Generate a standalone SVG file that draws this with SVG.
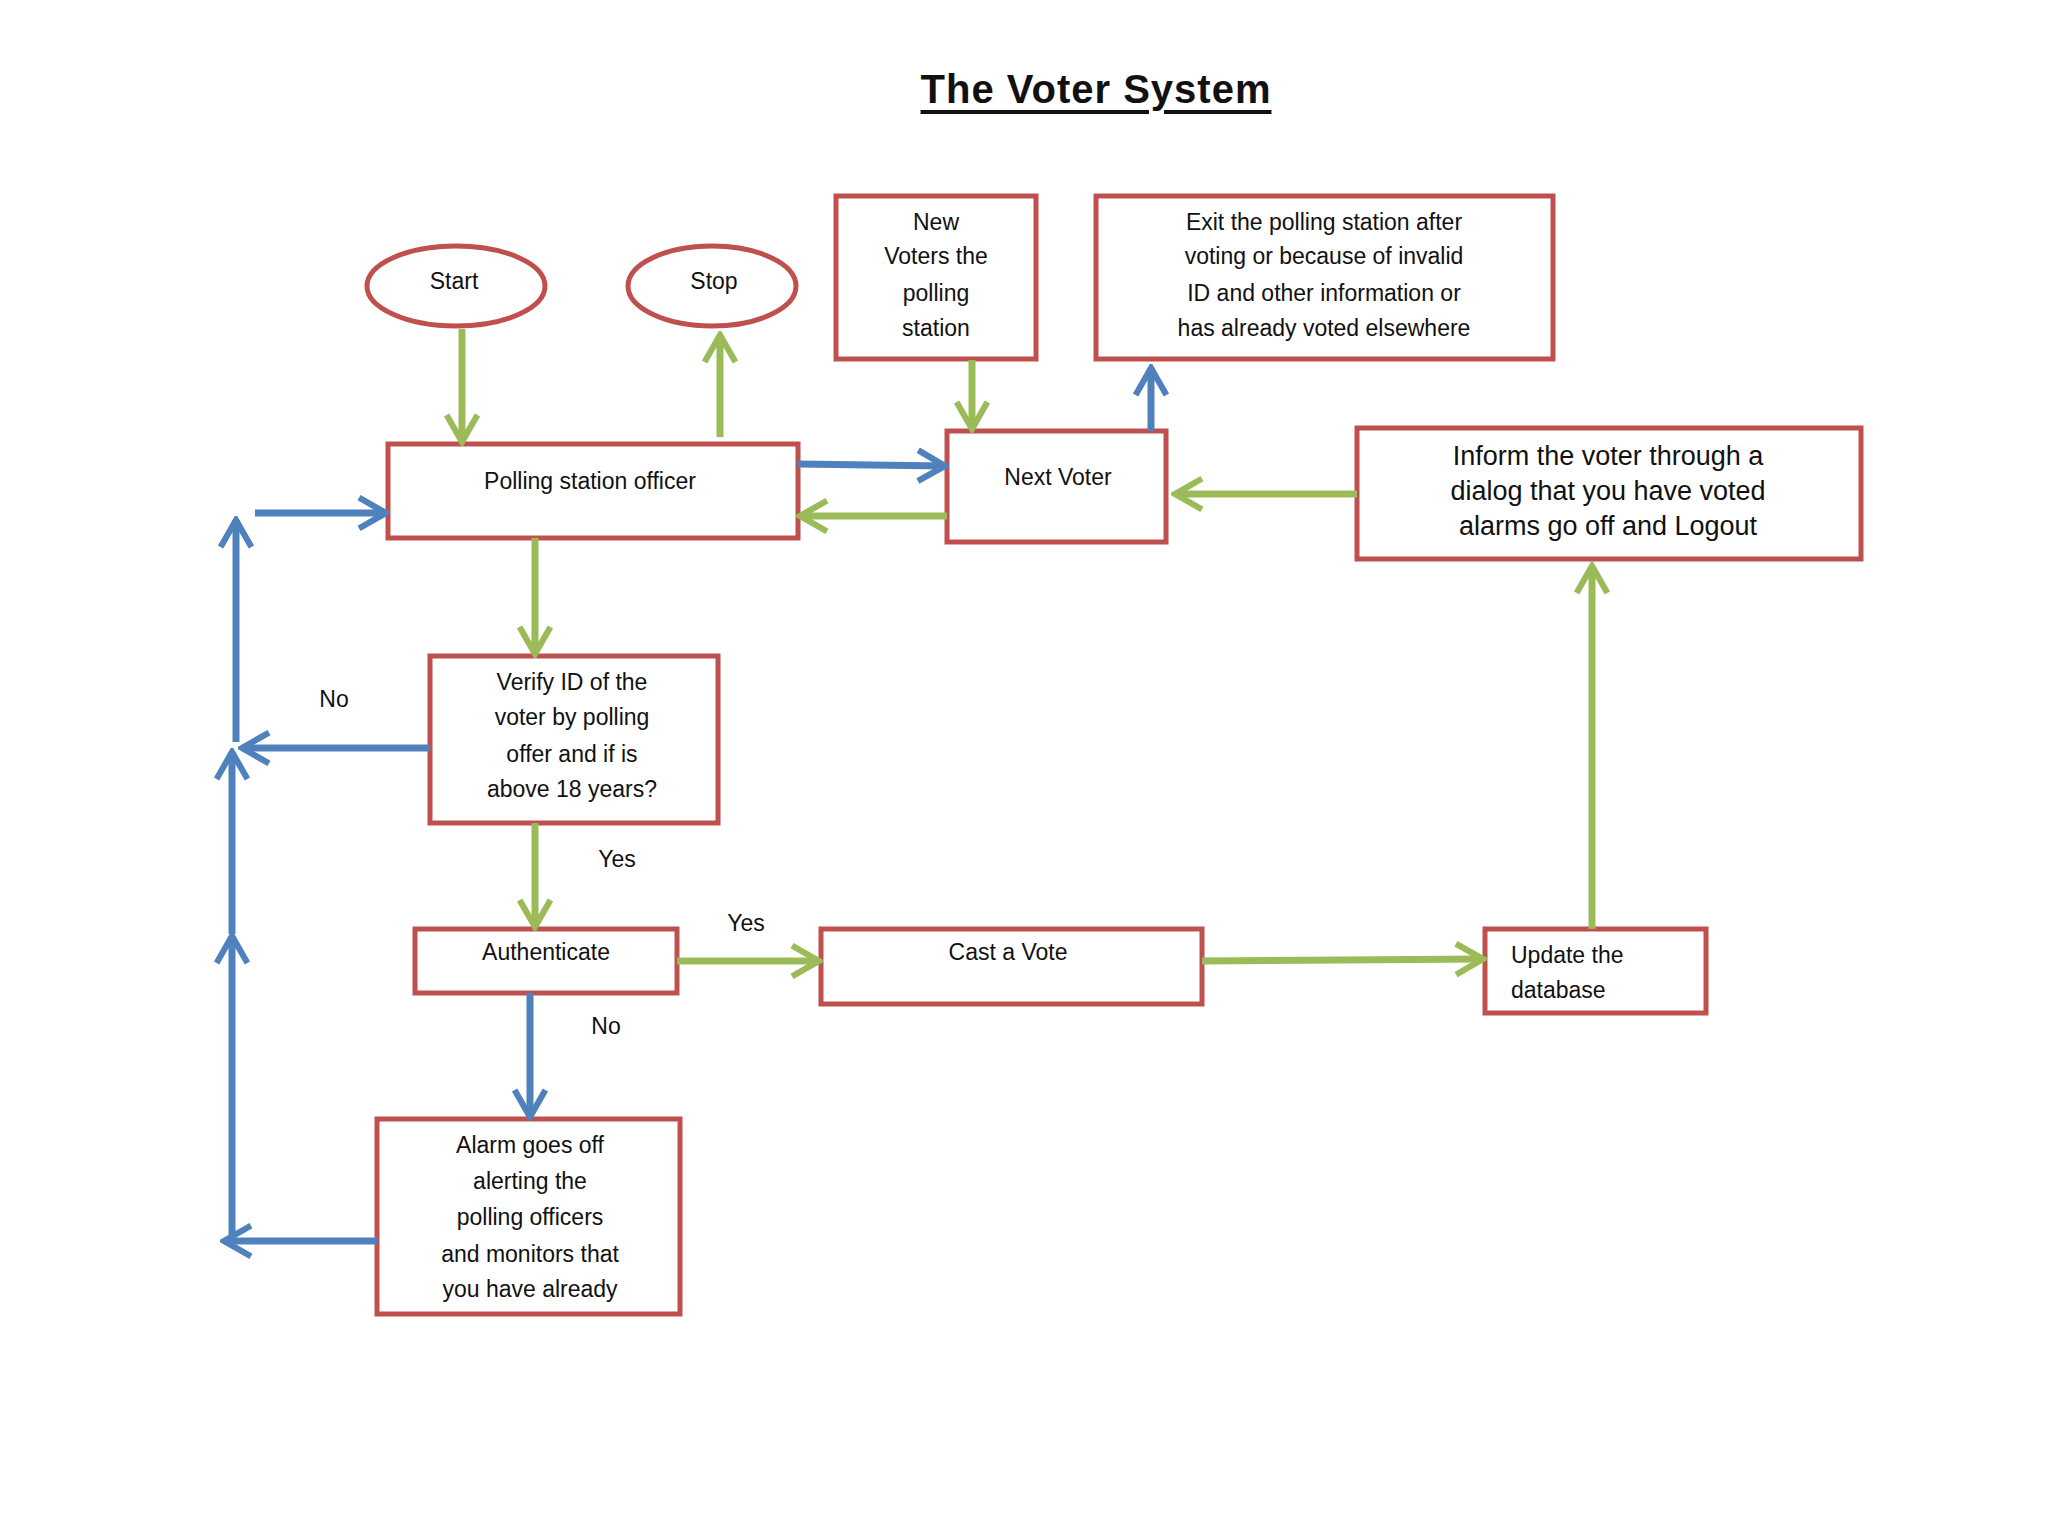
<svg xmlns="http://www.w3.org/2000/svg" width="2048" height="1536" viewBox="0 0 2048 1536">
<style>
.n{fill:#fff;stroke:#c0504d;stroke-width:5}
.t{font-family:"Liberation Sans",Arial,sans-serif;font-size:23px;fill:#111;text-anchor:middle;dominant-baseline:central}
.g{stroke:#9bbb59;stroke-width:7;fill:none;marker-end:url(#ag)}
.b{stroke:#4f81bd;stroke-width:7;fill:none;marker-end:url(#ab)}
</style>
<defs>
<marker id="ag" viewBox="0 0 10 10" refX="9" refY="5" markerWidth="5.5" markerHeight="5.5" orient="auto" markerUnits="strokeWidth"><polyline points="2,1 9,5 2,9" fill="none" stroke="#9bbb59" stroke-width="1.6"/></marker>
<marker id="ab" viewBox="0 0 10 10" refX="9" refY="5" markerWidth="5.5" markerHeight="5.5" orient="auto" markerUnits="strokeWidth"><polyline points="2,1 9,5 2,9" fill="none" stroke="#4f81bd" stroke-width="1.6"/></marker>
</defs>
<rect width="2048" height="1536" fill="#fff"/>
<text x="1096" y="89" class="t" style="font-size:40px;font-weight:bold;text-decoration:underline;letter-spacing:1px">The Voter System</text>
<g id="start"><ellipse cx="456" cy="286" rx="89" ry="40" class="n"/><text x="454" y="281" class="t">Start</text></g>
<g id="stop"><ellipse cx="712" cy="286" rx="84" ry="40" class="n"/><text x="714" y="281" class="t">Stop</text></g>
<g id="newvoters"><rect x="836" y="196" width="200" height="163" class="n"/><text class="t"><tspan x="936" y="222">New</tspan><tspan x="936" y="256">Voters the</tspan><tspan x="936" y="293">polling</tspan><tspan x="936" y="328">station</tspan></text></g>
<g id="exit"><rect x="1096" y="196" width="457" height="163" class="n"/><text class="t"><tspan x="1324" y="222">Exit the polling station after</tspan><tspan x="1324" y="256">voting or because of invalid</tspan><tspan x="1324" y="293">ID and other information or</tspan><tspan x="1324" y="328">has already voted elsewhere</tspan></text></g>
<g id="polling"><rect x="388" y="444" width="410" height="94" class="n"/><text x="590" y="481" class="t">Polling station officer</text></g>
<g id="next"><rect x="947" y="431" width="219" height="111" class="n"/><text x="1058" y="477" class="t">Next Voter</text></g>
<g id="inform"><rect x="1357" y="428" width="504" height="131" class="n"/><text class="t" style="font-size:27px"><tspan x="1608" y="456">Inform the voter through a</tspan><tspan x="1608" y="491">dialog that you have voted</tspan><tspan x="1608" y="526">alarms go off and Logout</tspan></text></g>
<g id="verify"><rect x="430" y="656" width="288" height="167" class="n"/><text class="t"><tspan x="572" y="682">Verify ID of the</tspan><tspan x="572" y="717">voter by polling</tspan><tspan x="572" y="754">offer and if is</tspan><tspan x="572" y="789">above 18 years?</tspan></text></g>
<g id="auth"><rect x="415" y="929" width="262" height="64" class="n"/><text x="546" y="952" class="t">Authenticate</text></g>
<g id="cast"><rect x="821" y="929" width="381" height="75" class="n"/><text x="1008" y="952" class="t">Cast a Vote</text></g>
<g id="update"><rect x="1485" y="929" width="221" height="84" class="n"/><text class="t" style="text-anchor:start"><tspan x="1511" y="955">Update the</tspan><tspan x="1511" y="990">database</tspan></text></g>
<g id="alarm"><rect x="377" y="1119" width="303" height="195" class="n"/><text class="t"><tspan x="530" y="1145">Alarm goes off</tspan><tspan x="530" y="1181">alerting the</tspan><tspan x="530" y="1217">polling officers</tspan><tspan x="530" y="1254">and monitors that</tspan><tspan x="530" y="1289">you have already</tspan></text></g>
<g id="connectors">
<line x1="462" y1="329" x2="462" y2="442" class="g"/>
<line x1="720" y1="437" x2="720" y2="335" class="g"/>
<line x1="972" y1="360" x2="972" y2="429" class="g"/>
<line x1="1151" y1="431" x2="1151" y2="368" class="b"/>
<line x1="798" y1="464" x2="945" y2="466" class="b"/>
<line x1="947" y1="516" x2="800" y2="516" class="g"/>
<line x1="1357" y1="494" x2="1175" y2="494" class="g"/>
<line x1="535" y1="538" x2="535" y2="654" class="g"/>
<line x1="535" y1="823" x2="535" y2="927" class="g"/>
<line x1="677" y1="961" x2="819" y2="961" class="g"/>
<line x1="1202" y1="961" x2="1483" y2="959" class="g"/>
<line x1="1592" y1="929" x2="1592" y2="566" class="g"/>
<line x1="530" y1="993" x2="530" y2="1117" class="b"/>
<line x1="430" y1="748" x2="242" y2="748" class="b"/>
<line x1="236" y1="742" x2="236" y2="520" class="b"/>
<line x1="255" y1="513" x2="386" y2="513" class="b"/>
<line x1="232" y1="934" x2="232" y2="752" class="b"/>
<line x1="232" y1="1241" x2="232" y2="936" class="b"/>
<line x1="377" y1="1241" x2="224" y2="1241" class="b"/>
</g>
<text x="334" y="699" class="t">No</text>
<text x="617" y="859" class="t">Yes</text>
<text x="746" y="923" class="t">Yes</text>
<text x="606" y="1026" class="t">No</text>
</svg>
